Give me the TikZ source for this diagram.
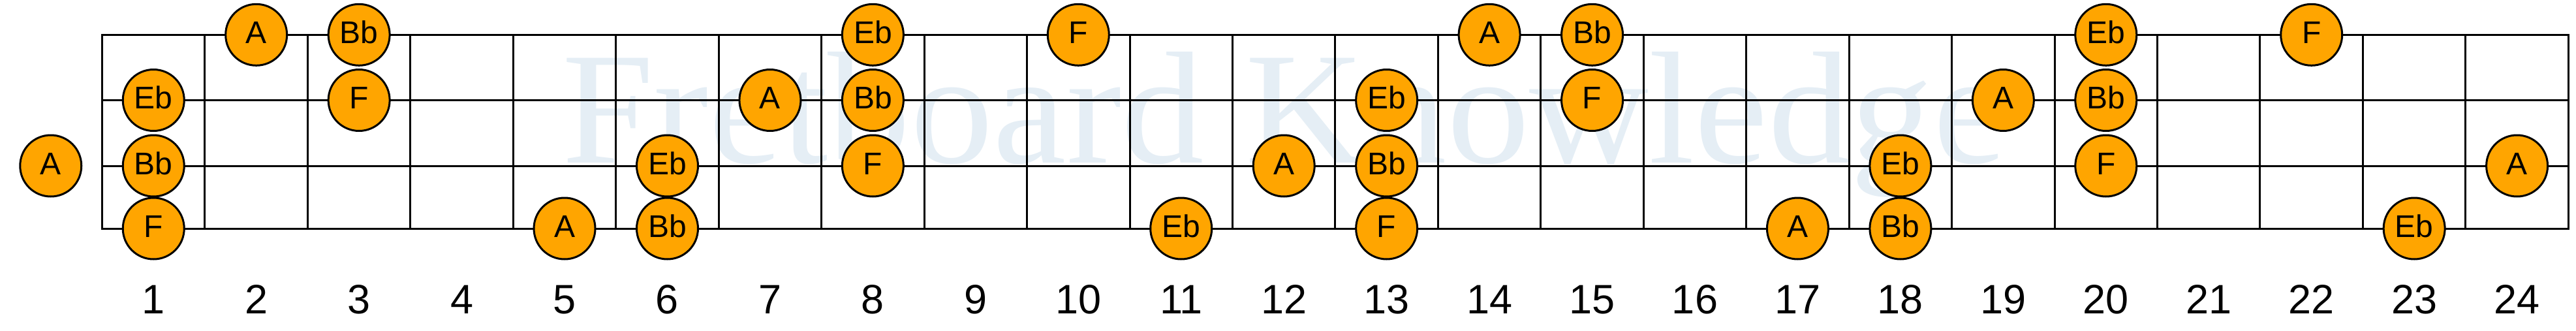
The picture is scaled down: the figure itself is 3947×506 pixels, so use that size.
\documentclass[tikz,border=0pt]{standalone}
\usepackage{fontspec}
\usepackage{graphicx}
\setmainfont{Liberation Sans}
\newfontfamily\wmfont{Liberation Serif}
\definecolor{noteorange}{RGB}{255,165,0}
\definecolor{wmcolor}{RGB}{229,238,245}
\begin{document}
\begin{tikzpicture}[x=1pt,y=-1pt,
  gridline/.style={line width=3pt, draw=black},
  note/.style={circle, draw=black, line width=3pt, fill=noteorange, minimum size=94pt, inner sep=0pt,
    font=\fontsize{48}{48}\selectfont, text height=34.4pt, text depth=8pt},
  fretnum/.style={font=\fontsize{63}{63}\selectfont, anchor=base, inner sep=0pt},
  watermark/.style={text=wmcolor, anchor=base west, inner sep=0pt}]
\useasboundingbox (0,0) rectangle (3947,506);
\def\nutx{156.5}
\def\fw{157.45}
% watermark
\node[watermark] (wm) at (861,249) {\resizebox{2213pt}{170pt}{\wmfont\fontsize{250}{250}\selectfont Fretboard Knowledge}};
% strings and frets
\draw[gridline] (\nutx,53.3) rectangle ({\nutx+24*\fw},350);
\foreach \y in {153.5,254}
  \draw[gridline] (\nutx,\y) -- ({\nutx+24*\fw},\y);
\foreach \i in {1,...,23}
  \draw[gridline] ({\nutx+\i*\fw},53.3) -- ({\nutx+\i*\fw},350);
% fret numbers
\foreach \i in {1,...,24}
  \node[fretnum] (num\i) at ({\nutx+(\i-0.5)*\fw},480) {\i};
% notes
\foreach \s/\f/\n in {
  1/2/A, 1/3/Bb, 1/8/Eb, 1/10/F, 1/14/A, 1/15/Bb, 1/20/Eb, 1/22/F,
  2/1/Eb, 2/3/F, 2/7/A, 2/8/Bb, 2/13/Eb, 2/15/F, 2/19/A, 2/20/Bb,
  3/0/A, 3/1/Bb, 3/6/Eb, 3/8/F, 3/12/A, 3/13/Bb, 3/18/Eb, 3/20/F, 3/24/A,
  4/1/F, 4/5/A, 4/6/Bb, 4/11/Eb, 4/13/F, 4/17/A, 4/18/Bb, 4/23/Eb}
{
  \pgfmathsetmacro\yy{{53.3,153.5,254,350}[\s-1]}
  \node[note] (note-\s-\f) at ({\nutx+(\f-0.5)*\fw},\yy) {\n};
}
\end{tikzpicture}
\end{document}
